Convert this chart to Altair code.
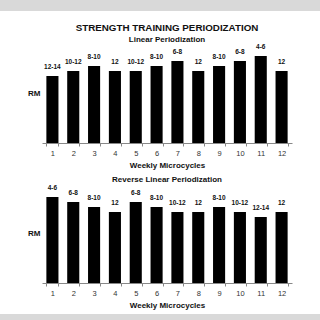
import altair as alt
import pandas as pd

weeks = list(range(1, 13))
linear_labels = ["12-14", "10-12", "8-10", "12", "10-12", "8-10", "6-8", "12", "8-10", "6-8", "4-6", "12"]
linear_values = [67, 72, 77, 72, 72, 77, 82, 72, 77, 82, 87, 72]
reverse_labels = ["4-6", "6-8", "8-10", "12", "6-8", "8-10", "10-12", "12", "8-10", "10-12", "12-14", "12"]
reverse_values = [86, 81, 76, 71, 81, 76, 71, 71, 76, 71, 66, 71]

FONT = "Liberation Sans"
GRAY = "#d9d9d9"


def panel(values, labels, title):
    df = pd.DataFrame({"week": weeks, "value": values, "label": labels})
    base = alt.Chart(df).encode(
        x=alt.X(
            "week:O",
            scale=alt.Scale(paddingInner=0.42, paddingOuter=0.21),
            axis=alt.Axis(
                title="Weekly Microcycles",
                titleFont=FONT, titleFontSize=8, titleFontWeight="bold", titleColor="#111",
                titlePadding=5,
                labelAngle=0, labelFont=FONT, labelFontSize=7.5, labelColor="#333333",
                labelPadding=3, tickSize=3, tickBand="extent",
                domainColor="#888", tickColor="#888", grid=False,
            ),
        ),
        y=alt.Y(
            "value:Q",
            scale=alt.Scale(domain=[0, 100]),
            axis=alt.Axis(
                title="RM", titleAngle=0, titleX=-2, titleY=50, titleAlign="right",
                titleBaseline="middle", titleFont=FONT, titleFontSize=8,
                titleFontWeight="bold", titleColor="#111",
                labels=False, ticks=False, domain=False, grid=False,
            ),
        ),
    )
    bars = base.mark_bar(color="black")
    text = base.mark_text(dy=-9, baseline="middle", font=FONT, fontSize=6.5,
                          fontWeight="bold", color="#111").encode(text="label:N")
    return alt.layer(bars, text).properties(width=250, height=100, title=title)


one = pd.DataFrame({"a": [0]})
band_top = alt.Chart(one).mark_rect(color=GRAY).encode(
    x=alt.value(-42), x2=alt.value(278), y=alt.value(-2), y2=alt.value(9)
)
band_bottom = alt.Chart(one).mark_rect(color=GRAY).encode(
    x=alt.value(-42), x2=alt.value(278), y=alt.value(312), y2=alt.value(318)
)
bands = alt.layer(band_top, band_bottom).properties(width=250, height=1)

top = panel(
    linear_values, linear_labels,
    alt.TitleParams(
        text="STRENGTH TRAINING PERIODIZATION", subtitle="Linear Periodization",
        font=FONT, fontSize=9.8, fontWeight="bold", color="#111",
        subtitleFont=FONT, subtitleFontSize=8, subtitleFontWeight="bold", subtitleColor="#111",
        subtitlePadding=3, offset=-1, anchor="middle",
    ),
)
bottom = panel(
    reverse_values, reverse_labels,
    alt.TitleParams(
        text="Reverse Linear Periodization",
        font=FONT, fontSize=8, fontWeight="bold", color="#111",
        offset=-1, anchor="middle",
    ),
)

chart = alt.vconcat(bands, top, bottom, spacing=40, bounds="flush").properties(
    padding=0, background="white"
).configure_view(stroke=None)

chart.save("out.html", embed_options={"renderer": "svg", "actions": False})
